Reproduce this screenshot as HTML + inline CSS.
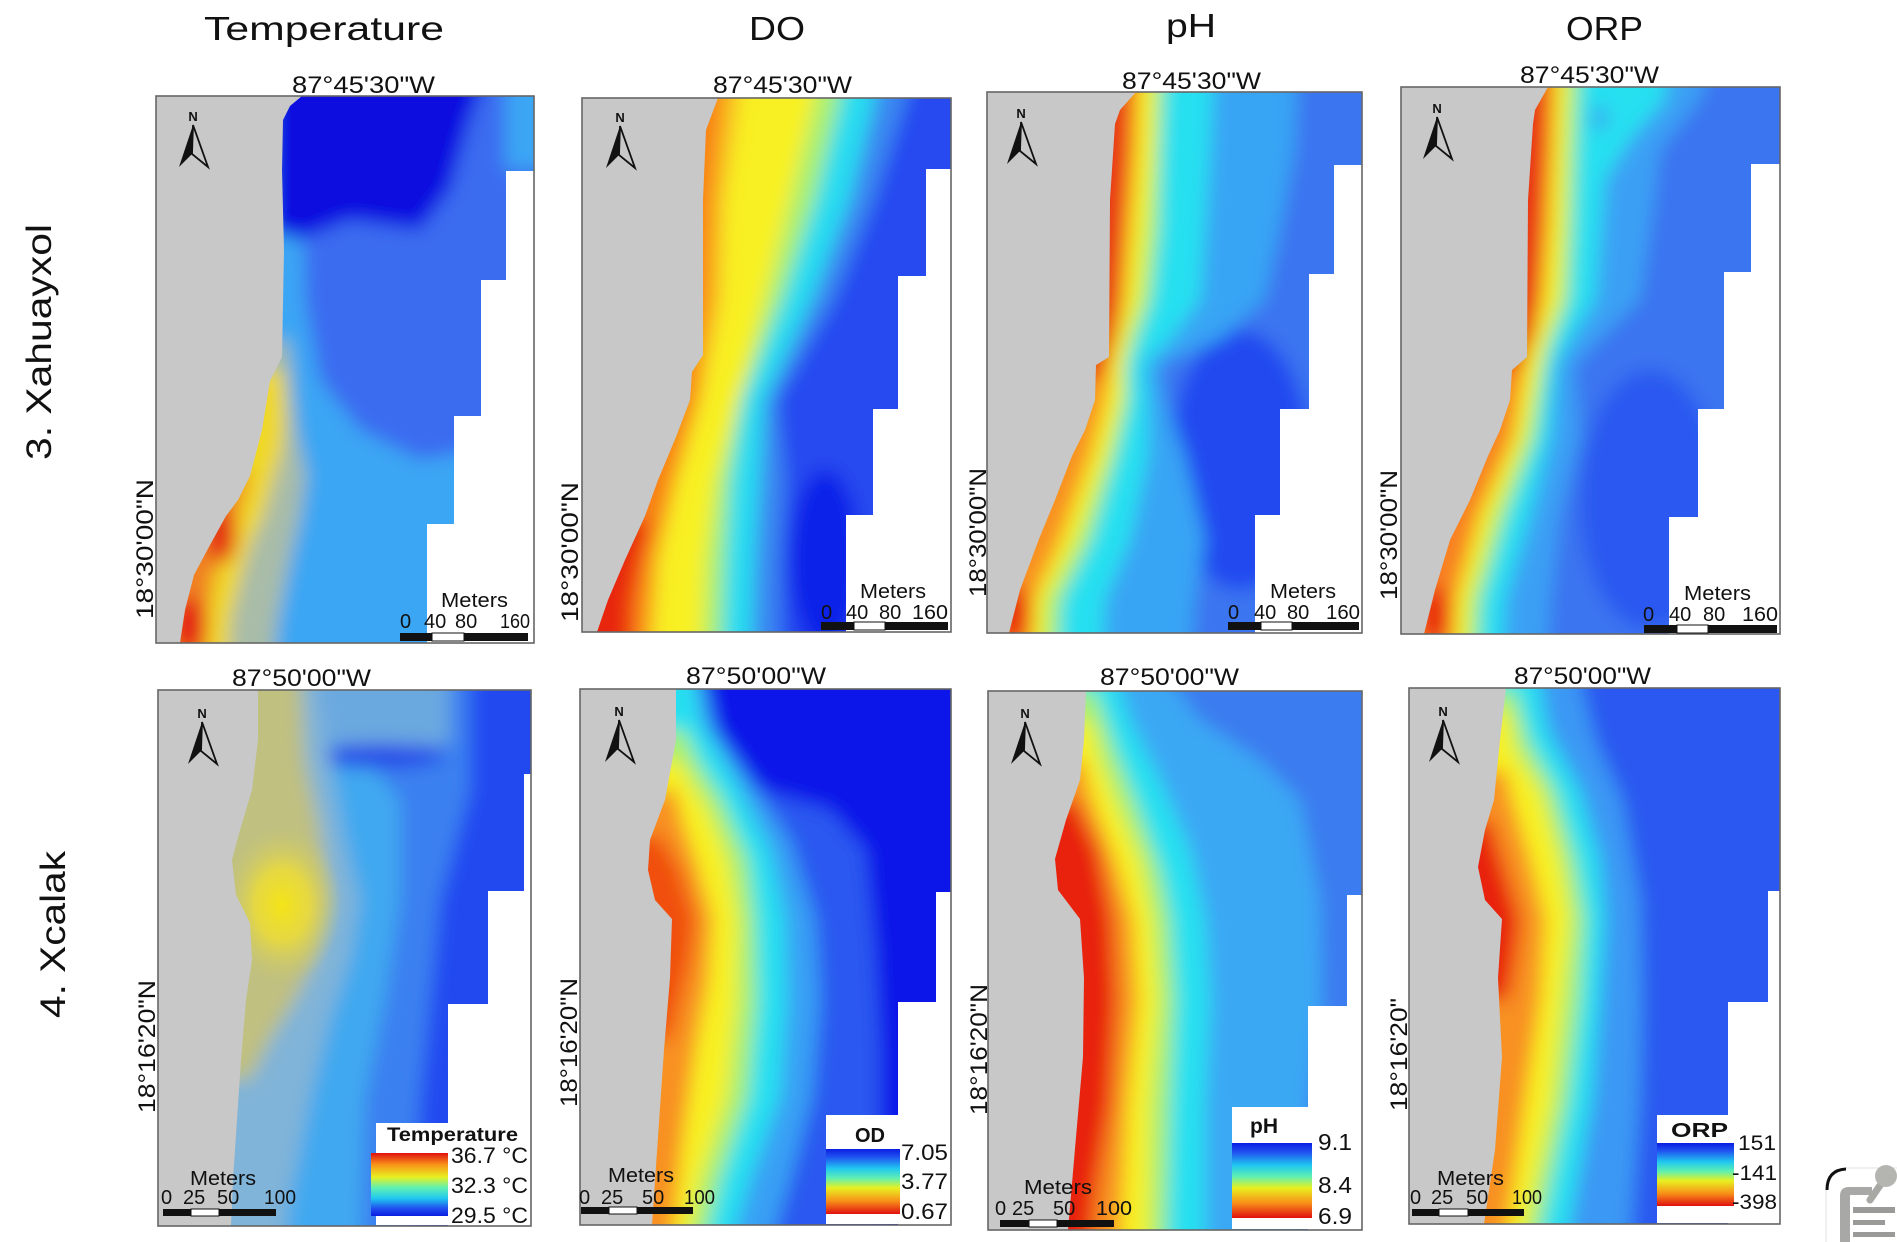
<!DOCTYPE html>
<html><head><meta charset="utf-8"><style>html,body{margin:0;padding:0;background:#fff;}svg{display:block}</style></head>
<body>
<svg xmlns="http://www.w3.org/2000/svg" xmlns:xlink="http://www.w3.org/1999/xlink" width="1897" height="1242" viewBox="0 0 1897 1242" font-family="'Liberation Sans', Arial, sans-serif" fill="#111">
<defs>
<filter id="bl" filterUnits="userSpaceOnUse" x="0" y="0" width="1897" height="1242"><feGaussianBlur stdDeviation="9"/></filter>
<clipPath id="c1"><rect x="156" y="96" width="378" height="547"/></clipPath>
<clipPath id="c2"><rect x="582" y="98" width="369" height="534"/></clipPath>
<clipPath id="c3"><rect x="987" y="92" width="375" height="541"/></clipPath>
<clipPath id="c4"><rect x="1401" y="87" width="379" height="547"/></clipPath>
<clipPath id="c5"><rect x="158" y="690" width="373" height="536"/></clipPath>
<clipPath id="c6"><rect x="580" y="689" width="371" height="536"/></clipPath>
<clipPath id="c7"><rect x="988" y="691" width="374" height="539"/></clipPath>
<clipPath id="c8"><rect x="1409" y="688" width="371" height="536"/></clipPath>
<linearGradient id="jb" x1="0" y1="0" x2="0" y2="1">
<stop offset="0" stop-color="#0a1ee0"/><stop offset="0.12" stop-color="#2050f0"/><stop offset="0.3" stop-color="#20c8f0"/><stop offset="0.45" stop-color="#60f0b0"/><stop offset="0.6" stop-color="#e8f020"/><stop offset="0.8" stop-color="#f89018"/><stop offset="1" stop-color="#e01010"/>
</linearGradient>
<linearGradient id="jr" x1="0" y1="0" x2="0" y2="1">
<stop offset="0" stop-color="#e01010"/><stop offset="0.18" stop-color="#f89018"/><stop offset="0.38" stop-color="#e8f020"/><stop offset="0.55" stop-color="#60f0b0"/><stop offset="0.72" stop-color="#20c8f0"/><stop offset="0.88" stop-color="#2050f0"/><stop offset="1" stop-color="#0a1ee0"/>
</linearGradient>
<radialGradient id="ys" cx="0.5" cy="0.5" r="0.5">
<stop offset="0" stop-color="#f4e418"/><stop offset="0.45" stop-color="#ecdc38" stop-opacity="0.85"/><stop offset="1" stop-color="#c8c870" stop-opacity="0"/>
</radialGradient>
<g id="na"><text x="0" y="0" font-size="13" font-weight="bold" text-anchor="middle">N</text><polygon points="0,4 -14,46 -1,33" fill="#111"/><polygon points="0,4 15,46 -1,33" fill="none" stroke="#111" stroke-width="1.8"/></g>
</defs>
<rect width="1897" height="1242" fill="#fff"/>

<!-- Titles -->
<text x="204" y="40" font-size="33" textLength="240" lengthAdjust="spacingAndGlyphs">Temperature</text>
<text x="749" y="40" font-size="33" textLength="56" lengthAdjust="spacingAndGlyphs">DO</text>
<text x="1166" y="37" font-size="33" textLength="50" lengthAdjust="spacingAndGlyphs">pH</text>
<text x="1566" y="40" font-size="33" textLength="77" lengthAdjust="spacingAndGlyphs">ORP</text>
<text transform="translate(51,460) rotate(-90)" font-size="35" textLength="236" lengthAdjust="spacingAndGlyphs">3. Xahuayxol</text>
<text transform="translate(65,1018) rotate(-90)" font-size="35" textLength="167" lengthAdjust="spacingAndGlyphs">4. Xcalak</text>

<!-- ============ PANEL 1: Temperature top ============ -->
<g clip-path="url(#c1)">
<g filter="url(#bl)">
<rect x="90" y="40" width="500" height="660" fill="#3aa6f4"/>
<polygon points="300,40 505,40 505,170 560,170 560,330 520,400 480,450 420,460 360,430 320,380 305,300" fill="#3a6cf0"/>
<polygon points="270,40 500,40 470,120 450,190 420,230 350,220 300,240 270,230" fill="#0810e0"/>
<polygon points="90,340 288,340 292,390 296,430 306,476 300,516 290,560 278,620 270,700 90,700" fill="#a8bca8"/>
<polygon points="90,370 283,370 285,420 282,450 274,476 263,516 250,545 240,580 230,620 226,700 90,700" fill="#f0d828"/>
<polygon points="90,470 250,470 242,500 236,520 226,545 214,575 208,610 204,700 90,700" fill="#f08020"/>
<ellipse cx="222" cy="535" rx="14" ry="28" fill="#e41818"/>
<ellipse cx="190" cy="625" rx="16" ry="28" fill="#e41818"/>
</g>
<polygon points="150,90 302,90 302,96 290,106 283,120 282,170 284,250 282,357 270,381 262,430 250,476 238,500 226,516 210,545 194,575 185,610 180,643 180,650 150,650" fill="#c8c8c8"/>
<polygon points="506,171 540,171 540,650 427,650 427,524 454,524 454,416 481,416 481,280 506,280" fill="#fff"/>
</g>
<rect x="156" y="96" width="378" height="547" fill="none" stroke="#666" stroke-width="1.6"/>

<!-- ============ PANEL 2: DO top ============ -->
<g clip-path="url(#c2)">
<g filter="url(#bl)">
<rect x="520" y="40" width="480" height="660" fill="#2848f0"/>
<ellipse cx="825" cy="560" rx="35" ry="90" fill="#1020e8"/>
<polygon points="520,40 922,40 906,100 874,200 834,300 777,400 785,480 780,560 780,700 520,700" fill="#3a88f0"/>
<polygon points="520,40 880,40 875,100 850,200 812,300 765,400 760,480 755,560 750,700 520,700" fill="#28dcf0"/>
<polygon points="520,40 845,40 840,100 815,200 782,300 742,400 730,480 725,560 720,700 520,700" fill="#a8f070"/>
<polygon points="520,40 820,40 815,100 790,200 765,300 738,400 716,480 706,560 700,700 520,700" fill="#f8f020"/>
<polygon points="520,40 745,40 740,100 725,200 722,300 702,400 678,480 660,560 650,700 520,700" fill="#f8c020"/>
<polygon points="520,40 728,40 722,100 712,200 708,300 695,400 672,480 652,560 640,700 520,700" fill="#f88018"/>
<polygon points="520,520 650,520 640,560 632,600 628,700 520,700" fill="#e82810"/>
</g>
<polygon points="575,90 718,90 718,98 706,130 703,200 703,355 692,372 690,400 676,437 658,480 645,516 625,560 608,600 597,632 597,640 575,640" fill="#c8c8c8"/>
<polygon points="926,169 960,169 960,640 846,640 846,515 873,515 873,409 898,409 898,276 926,276" fill="#fff"/>
</g>
<rect x="582" y="98" width="369" height="534" fill="none" stroke="#666" stroke-width="1.6"/>

<!-- ============ PANEL 3: pH top ============ -->
<g clip-path="url(#c3)">
<g filter="url(#bl)">
<rect x="930" y="40" width="490" height="660" fill="#3a74f0"/>
<ellipse cx="1240" cy="460" rx="70" ry="130" fill="#2048f0"/>
<polygon points="930,40 1300,40 1295,150 1280,230 1265,300 1220,340 1160,365 1165,400 1185,456 1205,540 1195,600 1190,700 930,700" fill="#38a4f4"/>
<polygon points="930,40 1215,40 1210,150 1205,230 1200,300 1170,340 1145,365 1148,400 1148,456 1130,540 1105,600 1100,700 930,700" fill="#28e0f0"/>
<polygon points="930,40 1165,40 1160,150 1158,230 1150,300 1135,340 1127,365 1128,400 1115,456 1090,540 1060,600 1055,700 930,700" fill="#b0f060"/>
<polygon points="930,40 1155,40 1152,150 1145,230 1138,300 1126,340 1122,365 1120,400 1105,456 1075,540 1045,600 1040,700 930,700" fill="#f8f020"/>
<polygon points="930,40 1140,40 1136,150 1130,230 1124,300 1115,340 1110,365 1105,400 1090,456 1060,540 1033,600 1028,700 930,700" fill="#f89020"/>
<polygon points="930,40 1132,40 1128,150 1122,250 1118,330 1100,380 930,380" fill="#e83818"/>
<ellipse cx="1015" cy="615" rx="15" ry="30" fill="#e82010"/>
</g>
<polygon points="980,85 1136,85 1136,92 1120,110 1115,124 1110,200 1109,357 1096,365 1095,400 1085,430 1072,456 1055,500 1039,539 1020,590 1009,633 1009,640 980,640" fill="#c8c8c8"/>
<polygon points="1334,165 1370,165 1370,640 1255,640 1255,515 1280,515 1280,409 1309,409 1309,274 1334,274" fill="#fff"/>
</g>
<rect x="987" y="92" width="375" height="541" fill="none" stroke="#666" stroke-width="1.6"/>

<!-- ============ PANEL 4: ORP top ============ -->
<g clip-path="url(#c4)">
<g filter="url(#bl)">
<rect x="1340" y="40" width="500" height="660" fill="#3a74f0"/>
<ellipse cx="1650" cy="500" rx="70" ry="130" fill="#2a58f0"/>
<polygon points="1340,40 1720,40 1700,100 1660,150 1650,230 1640,300 1600,340 1575,365 1580,437 1560,516 1550,600 1545,700 1340,700" fill="#3aa0f4"/>
<polygon points="1340,40 1670,40 1665,100 1630,140 1605,180 1595,300 1570,340 1556,365 1550,437 1530,516 1505,600 1500,700 1340,700" fill="#28e0f0"/>
<ellipse cx="1600" cy="118" rx="8" ry="12" fill="#3aa0f0"/>
<polygon points="1340,40 1580,40 1575,150 1572,230 1568,300 1550,345 1545,365 1535,437 1505,516 1480,600 1475,700 1340,700" fill="#b0f060"/>
<polygon points="1340,40 1568,40 1564,150 1562,230 1558,300 1543,345 1538,365 1524,437 1492,516 1468,600 1462,700 1340,700" fill="#f8f020"/>
<polygon points="1340,40 1556,40 1552,150 1548,230 1542,300 1530,345 1524,365 1512,437 1478,516 1455,600 1450,700 1340,700" fill="#f88020"/>
<polygon points="1340,40 1548,40 1545,150 1540,250 1536,330 1520,370 1340,380" fill="#e83018"/>
<ellipse cx="1435" cy="615" rx="14" ry="30" fill="#e82010"/>
</g>
<polygon points="1395,80 1548,80 1548,87 1535,110 1533,124 1528,200 1527,357 1512,370 1510,400 1500,430 1488,456 1470,500 1450,540 1435,590 1424,634 1424,640 1395,640" fill="#c8c8c8"/>
<polygon points="1751,164 1790,164 1790,640 1669,640 1669,517 1698,517 1698,409 1724,409 1724,272 1751,272" fill="#fff"/>
</g>
<rect x="1401" y="87" width="379" height="547" fill="none" stroke="#666" stroke-width="1.6"/>

<!-- ============ PANEL 5: Temperature bottom ============ -->
<g clip-path="url(#c5)">
<g filter="url(#bl)">
<rect x="90" y="640" width="500" height="640" fill="#2448f0"/>
<polygon points="90,640 470,640 470,790 440,900 430,1000 420,1100 410,1280 90,1280" fill="#3a80f0"/>
<polygon points="90,640 350,640 350,740 400,800 400,900 385,1000 365,1100 360,1280 90,1280" fill="#40a8f0"/>
<polygon points="300,640 450,640 450,745 300,745" fill="#6aa8e0"/>
<ellipse cx="380" cy="756" rx="65" ry="12" fill="#2848e8"/>
<polygon points="90,640 310,640 330,760 345,840 360,900 350,960 330,1020 310,1100 290,1200 280,1280 90,1280" fill="#80b4d8"/>
<polygon points="90,640 300,640 305,760 320,830 330,900 315,960 295,1000 270,1040 250,1080 90,1080" fill="#c0c080"/>
</g>
<ellipse cx="282" cy="905" rx="60" ry="80" fill="url(#ys)"/>
<polygon points="150,680 258,680 258,690 258,740 252,790 240,830 232,860 236,895 250,923 252,960 246,1000 241,1060 237,1120 233,1180 231,1226 231,1235 150,1235" fill="#c8c8c8"/>
<polygon points="524,774 540,774 540,1235 448,1235 448,1004 488,1004 488,891 524,891" fill="#fff"/>
</g>
<rect x="158" y="690" width="373" height="536" fill="none" stroke="#666" stroke-width="1.6"/>

<!-- ============ PANEL 6: DO bottom ============ -->
<g clip-path="url(#c6)">
<g filter="url(#bl)">
<rect x="520" y="640" width="480" height="640" fill="#0818e8"/>
<polygon points="520,640 690,640 700,740 760,790 830,810 865,850 875,950 880,1050 880,1280 520,1280" fill="#2a58f0"/>
<polygon points="520,640 695,640 715,730 750,780 790,840 815,919 820,1000 812,1097 790,1180 760,1280 520,1280" fill="#38a0f4"/>
<polygon points="520,640 688,640 700,720 735,780 770,850 785,919 787,1000 780,1097 750,1180 720,1280 520,1280" fill="#28e0f0"/>
<polygon points="520,730 685,730 697,760 722,800 748,860 755,919 757,1000 748,1097 720,1180 695,1280 520,1280" fill="#a8f070"/>
<polygon points="520,760 680,760 690,780 708,810 728,860 738,919 737,1000 727,1097 700,1180 680,1280 520,1280" fill="#f8f020"/>
<polygon points="520,790 675,790 682,820 697,865 712,919 708,980 695,1050 683,1137 668,1280 520,1280" fill="#f89020"/>
<polygon points="520,835 660,835 680,870 695,919 690,960 680,1000 670,1040 520,1040" fill="#f05010"/>
</g>
<polygon points="570,680 676,680 676,689 676,740 665,800 650,840 648,870 655,900 672,919 670,978 664,1050 658,1137 652,1225 652,1235 570,1235" fill="#c8c8c8"/>
<polygon points="936,892 960,892 960,1235 898,1235 898,1002 936,1002" fill="#fff"/>
</g>
<rect x="580" y="689" width="371" height="536" fill="none" stroke="#666" stroke-width="1.6"/>

<!-- ============ PANEL 7: pH bottom ============ -->
<g clip-path="url(#c7)">
<g filter="url(#bl)">
<rect x="930" y="640" width="490" height="640" fill="#3a7cf0"/>
<polygon points="930,640 1140,640 1200,720 1260,760 1300,800 1320,900 1322,1000 1310,1100 1300,1280 930,1280" fill="#3aa8f4"/>
<polygon points="930,640 1105,640 1130,720 1160,780 1190,850 1205,919 1210,1000 1205,1105 1205,1280 930,1280" fill="#28e0f0"/>
<polygon points="930,690 1095,690 1115,750 1135,800 1160,870 1170,919 1175,1000 1170,1105 1165,1280 930,1280" fill="#a8f070"/>
<polygon points="930,720 1090,720 1100,760 1115,800 1140,860 1152,919 1158,1000 1150,1105 1148,1280 930,1280" fill="#f8f020"/>
<polygon points="930,760 1082,760 1092,800 1115,860 1132,919 1137,1000 1127,1105 1118,1280 930,1280" fill="#f89020"/>
<polygon points="930,800 1075,800 1098,850 1112,919 1116,1000 1110,1105 1095,1200 1088,1280 930,1280" fill="#e82010"/>
</g>
<polygon points="980,680 1086,680 1086,691 1084,740 1080,780 1066,820 1055,859 1058,890 1080,919 1084,978 1083,1057 1076,1137 1068,1230 1068,1240 980,1240" fill="#c8c8c8"/>
<polygon points="1347,895 1370,895 1370,1240 1308,1240 1308,1006 1347,1006" fill="#fff"/>
</g>
<rect x="988" y="691" width="374" height="539" fill="none" stroke="#666" stroke-width="1.6"/>

<!-- ============ PANEL 8: ORP bottom ============ -->
<g clip-path="url(#c8)">
<g filter="url(#bl)">
<rect x="1340" y="640" width="500" height="640" fill="#2a58f0"/>
<polygon points="1340,640 1570,640 1595,740 1622,800 1640,900 1642,1000 1640,1100 1628,1280 1340,1280" fill="#3a98f4"/>
<polygon points="1340,640 1532,640 1548,730 1580,790 1600,860 1605,919 1600,1000 1592,1100 1560,1280 1340,1280" fill="#28e0f0"/>
<polygon points="1340,690 1515,690 1528,740 1555,790 1575,860 1585,919 1580,1000 1568,1100 1530,1280 1340,1280" fill="#a8f070"/>
<polygon points="1340,710 1508,710 1515,750 1540,790 1560,860 1570,919 1562,1000 1552,1100 1515,1280 1340,1280" fill="#f8f020"/>
<polygon points="1340,770 1505,770 1512,800 1530,860 1545,919 1540,1000 1525,1100 1500,1280 1340,1280" fill="#f89020"/>
<polygon points="1340,820 1490,820 1502,860 1520,919 1515,960 1508,1000 1340,1000" fill="#e82010"/>
</g>
<polygon points="1400,680 1506,680 1506,688 1500,740 1494,800 1485,830 1478,867 1485,900 1502,919 1498,978 1502,1057 1495,1150 1484,1224 1484,1235 1400,1235" fill="#c8c8c8"/>
<polygon points="1768,891 1790,891 1790,1235 1728,1235 1728,1002 1768,1002" fill="#fff"/>
</g>
<rect x="1409" y="688" width="371" height="536" fill="none" stroke="#666" stroke-width="1.6"/>

<!-- North arrows -->
<use href="#na" xlink:href="#na" x="193" y="121"/>
<use href="#na" xlink:href="#na" x="620" y="122"/>
<use href="#na" xlink:href="#na" x="1021" y="118"/>
<use href="#na" xlink:href="#na" x="1437" y="113"/>
<use href="#na" xlink:href="#na" x="202" y="718"/>
<use href="#na" xlink:href="#na" x="619" y="716"/>
<use href="#na" xlink:href="#na" x="1025" y="718"/>
<use href="#na" xlink:href="#na" x="1443" y="716"/>

<!-- Longitude labels -->
<g font-size="24">
<text x="292" y="93" textLength="143" lengthAdjust="spacingAndGlyphs">87°45'30"W</text>
<text x="713" y="93" textLength="139" lengthAdjust="spacingAndGlyphs">87°45'30"W</text>
<text x="1122" y="89" textLength="139" lengthAdjust="spacingAndGlyphs">87°45'30"W</text>
<text x="1520" y="83" textLength="139" lengthAdjust="spacingAndGlyphs">87°45'30"W</text>
<text x="232" y="686" textLength="139" lengthAdjust="spacingAndGlyphs">87°50'00"W</text>
<text x="686" y="684" textLength="140" lengthAdjust="spacingAndGlyphs">87°50'00"W</text>
<text x="1100" y="685" textLength="139" lengthAdjust="spacingAndGlyphs">87°50'00"W</text>
<text x="1514" y="684" textLength="137" lengthAdjust="spacingAndGlyphs">87°50'00"W</text>
<!-- Latitude labels -->
<text transform="translate(153,619) rotate(-90)" textLength="140" lengthAdjust="spacingAndGlyphs">18°30'00"N</text>
<text transform="translate(578,622) rotate(-90)" textLength="140" lengthAdjust="spacingAndGlyphs">18°30'00"N</text>
<text transform="translate(986,597) rotate(-90)" textLength="129" lengthAdjust="spacingAndGlyphs">18°30'00"N</text>
<text transform="translate(1397,600) rotate(-90)" textLength="130" lengthAdjust="spacingAndGlyphs">18°30'00"N</text>
<text transform="translate(155,1113) rotate(-90)" textLength="133" lengthAdjust="spacingAndGlyphs">18°16'20"N</text>
<text transform="translate(577,1107) rotate(-90)" textLength="129" lengthAdjust="spacingAndGlyphs">18°16'20"N</text>
<text transform="translate(987,1115) rotate(-90)" textLength="131" lengthAdjust="spacingAndGlyphs">18°16'20"N</text>
<text transform="translate(1407,1111) rotate(-90)" textLength="113" lengthAdjust="spacingAndGlyphs">18°16'20"</text>
</g>

<!-- Scale bars top row -->
<g font-size="20">
<text x="441" y="607" textLength="67" lengthAdjust="spacingAndGlyphs">Meters</text>
<text x="400" y="628">0</text><text x="424" y="628">40</text><text x="455" y="628">80</text><text x="500" y="628" textLength="30" lengthAdjust="spacingAndGlyphs">160</text>
<rect x="400" y="633" width="32" height="8" fill="#111"/><rect x="432" y="633" width="32" height="8" fill="#fff" stroke="#111" stroke-width="1"/><rect x="464" y="633" width="64" height="8" fill="#111"/>

<text x="860" y="598" textLength="66" lengthAdjust="spacingAndGlyphs">Meters</text>
<text x="821" y="619">0</text><text x="846" y="619">40</text><text x="879" y="619">80</text><text x="912" y="619" textLength="36" lengthAdjust="spacingAndGlyphs">160</text>
<rect x="821" y="622" width="33" height="8" fill="#111"/><rect x="854" y="622" width="31" height="8" fill="#fff" stroke="#111" stroke-width="1"/><rect x="885" y="622" width="63" height="8" fill="#111"/>

<text x="1270" y="598" textLength="66" lengthAdjust="spacingAndGlyphs">Meters</text>
<text x="1228" y="619">0</text><text x="1254" y="619">40</text><text x="1287" y="619">80</text><text x="1326" y="619" textLength="34" lengthAdjust="spacingAndGlyphs">160</text>
<rect x="1228" y="622" width="33" height="8" fill="#111"/><rect x="1261" y="622" width="31" height="8" fill="#fff" stroke="#111" stroke-width="1"/><rect x="1292" y="622" width="67" height="8" fill="#111"/>

<text x="1684" y="600" textLength="67" lengthAdjust="spacingAndGlyphs">Meters</text>
<text x="1643" y="621">0</text><text x="1669" y="621">40</text><text x="1703" y="621">80</text><text x="1742" y="621" textLength="36" lengthAdjust="spacingAndGlyphs">160</text>
<rect x="1644" y="625" width="33" height="8" fill="#111"/><rect x="1677" y="625" width="31" height="8" fill="#fff" stroke="#111" stroke-width="1"/><rect x="1708" y="625" width="69" height="8" fill="#111"/>

<!-- bottom row -->
<text x="190" y="1185" textLength="66" lengthAdjust="spacingAndGlyphs">Meters</text>
<text x="161" y="1204">0</text><text x="183" y="1204">25</text><text x="217" y="1204">50</text><text x="264" y="1204" textLength="32" lengthAdjust="spacingAndGlyphs">100</text>
<rect x="163" y="1209" width="28" height="7" fill="#111"/><rect x="191" y="1209" width="28" height="7" fill="#fff" stroke="#111" stroke-width="1"/><rect x="219" y="1209" width="57" height="7" fill="#111"/>

<text x="608" y="1182" textLength="66" lengthAdjust="spacingAndGlyphs">Meters</text>
<text x="579" y="1204">0</text><text x="601" y="1204">25</text><text x="642" y="1204">50</text><text x="684" y="1204" textLength="31" lengthAdjust="spacingAndGlyphs">100</text>
<rect x="581" y="1207" width="28" height="7" fill="#111"/><rect x="609" y="1207" width="28" height="7" fill="#fff" stroke="#111" stroke-width="1"/><rect x="637" y="1207" width="56" height="7" fill="#111"/>

<text x="1024" y="1194" textLength="68" lengthAdjust="spacingAndGlyphs">Meters</text>
<text x="995" y="1215">0</text><text x="1012" y="1215">25</text><text x="1053" y="1215">50</text><text x="1096" y="1215" textLength="36" lengthAdjust="spacingAndGlyphs">100</text>
<rect x="1000" y="1220" width="29" height="7" fill="#111"/><rect x="1029" y="1220" width="28" height="7" fill="#fff" stroke="#111" stroke-width="1"/><rect x="1057" y="1220" width="57" height="7" fill="#111"/>

<text x="1437" y="1185" textLength="67" lengthAdjust="spacingAndGlyphs">Meters</text>
<text x="1410" y="1204">0</text><text x="1431" y="1204">25</text><text x="1466" y="1204">50</text><text x="1512" y="1204" textLength="30" lengthAdjust="spacingAndGlyphs">100</text>
<rect x="1412" y="1209" width="27" height="7" fill="#111"/><rect x="1439" y="1209" width="29" height="7" fill="#fff" stroke="#111" stroke-width="1"/><rect x="1468" y="1209" width="56" height="7" fill="#111"/>
</g>

<!-- Legends -->
<rect x="376" y="1123" width="154" height="102" fill="#fff"/>
<text x="387" y="1141" font-size="19" font-weight="bold" textLength="131" lengthAdjust="spacingAndGlyphs">Temperature</text>
<rect x="371" y="1153" width="77" height="63" fill="url(#jr)"/>
<g font-size="22">
<text x="451" y="1163" textLength="77" lengthAdjust="spacingAndGlyphs">36.7 °C</text>
<text x="451" y="1193" textLength="77" lengthAdjust="spacingAndGlyphs">32.3 °C</text>
<text x="451" y="1223" textLength="77" lengthAdjust="spacingAndGlyphs">29.5 °C</text>
</g>

<rect x="826" y="1115" width="124" height="109" fill="#fff"/>
<text x="870" y="1142" font-size="20" font-weight="bold" text-anchor="middle">OD</text>
<rect x="826" y="1149" width="74" height="65" fill="url(#jb)"/>
<g font-size="22">
<text x="901" y="1160" textLength="47" lengthAdjust="spacingAndGlyphs">7.05</text>
<text x="901" y="1189" textLength="47" lengthAdjust="spacingAndGlyphs">3.77</text>
<text x="901" y="1219" textLength="47" lengthAdjust="spacingAndGlyphs">0.67</text>
</g>

<rect x="1232" y="1107" width="129" height="122" fill="#fff"/>
<text x="1264" y="1133" font-size="21" font-weight="bold" text-anchor="middle">pH</text>
<rect x="1232" y="1143" width="80" height="75" fill="url(#jb)"/>
<g font-size="23">
<text x="1318" y="1150" textLength="34" lengthAdjust="spacingAndGlyphs">9.1</text>
<text x="1318" y="1193" textLength="34" lengthAdjust="spacingAndGlyphs">8.4</text>
<text x="1318" y="1224" textLength="34" lengthAdjust="spacingAndGlyphs">6.9</text>
</g>

<rect x="1657" y="1115" width="122" height="108" fill="#fff"/>
<text x="1671" y="1137" font-size="20" font-weight="bold" textLength="57" lengthAdjust="spacingAndGlyphs">ORP</text>
<rect x="1657" y="1143" width="77" height="63" fill="url(#jb)"/>
<g font-size="21">
<text x="1738" y="1150" textLength="38" lengthAdjust="spacingAndGlyphs">151</text>
<text x="1732" y="1180" textLength="45" lengthAdjust="spacingAndGlyphs">-141</text>
<text x="1732" y="1209" textLength="45" lengthAdjust="spacingAndGlyphs">-398</text>
</g>

<!-- corner icon -->
<path d="M1827,1190 Q1827,1170 1846,1169" fill="none" stroke="#111" stroke-width="3"/>
<path d="M1826,1190 L1826,1242 M1846,1168 L1897,1168" stroke="#e2e2e2" stroke-width="1" fill="none"/>
<path d="M1840,1242 L1840,1196 Q1840,1187 1849,1187 L1872,1187 L1872,1195 L1850,1195 L1850,1242 Z" fill="#a8a8a6"/>
<line x1="1881" y1="1184" x2="1870" y2="1200" stroke="#a8a8a4" stroke-width="7" stroke-linecap="round"/>
<circle cx="1886" cy="1176" r="11" fill="#b4b4b0"/>
<rect x="1853" y="1207" width="42" height="6" fill="#9a9a98"/>
<rect x="1853" y="1220" width="32" height="5" fill="#9a9a98"/>
<rect x="1853" y="1232" width="42" height="5" fill="#9a9a98"/>
</svg>
</body></html>
